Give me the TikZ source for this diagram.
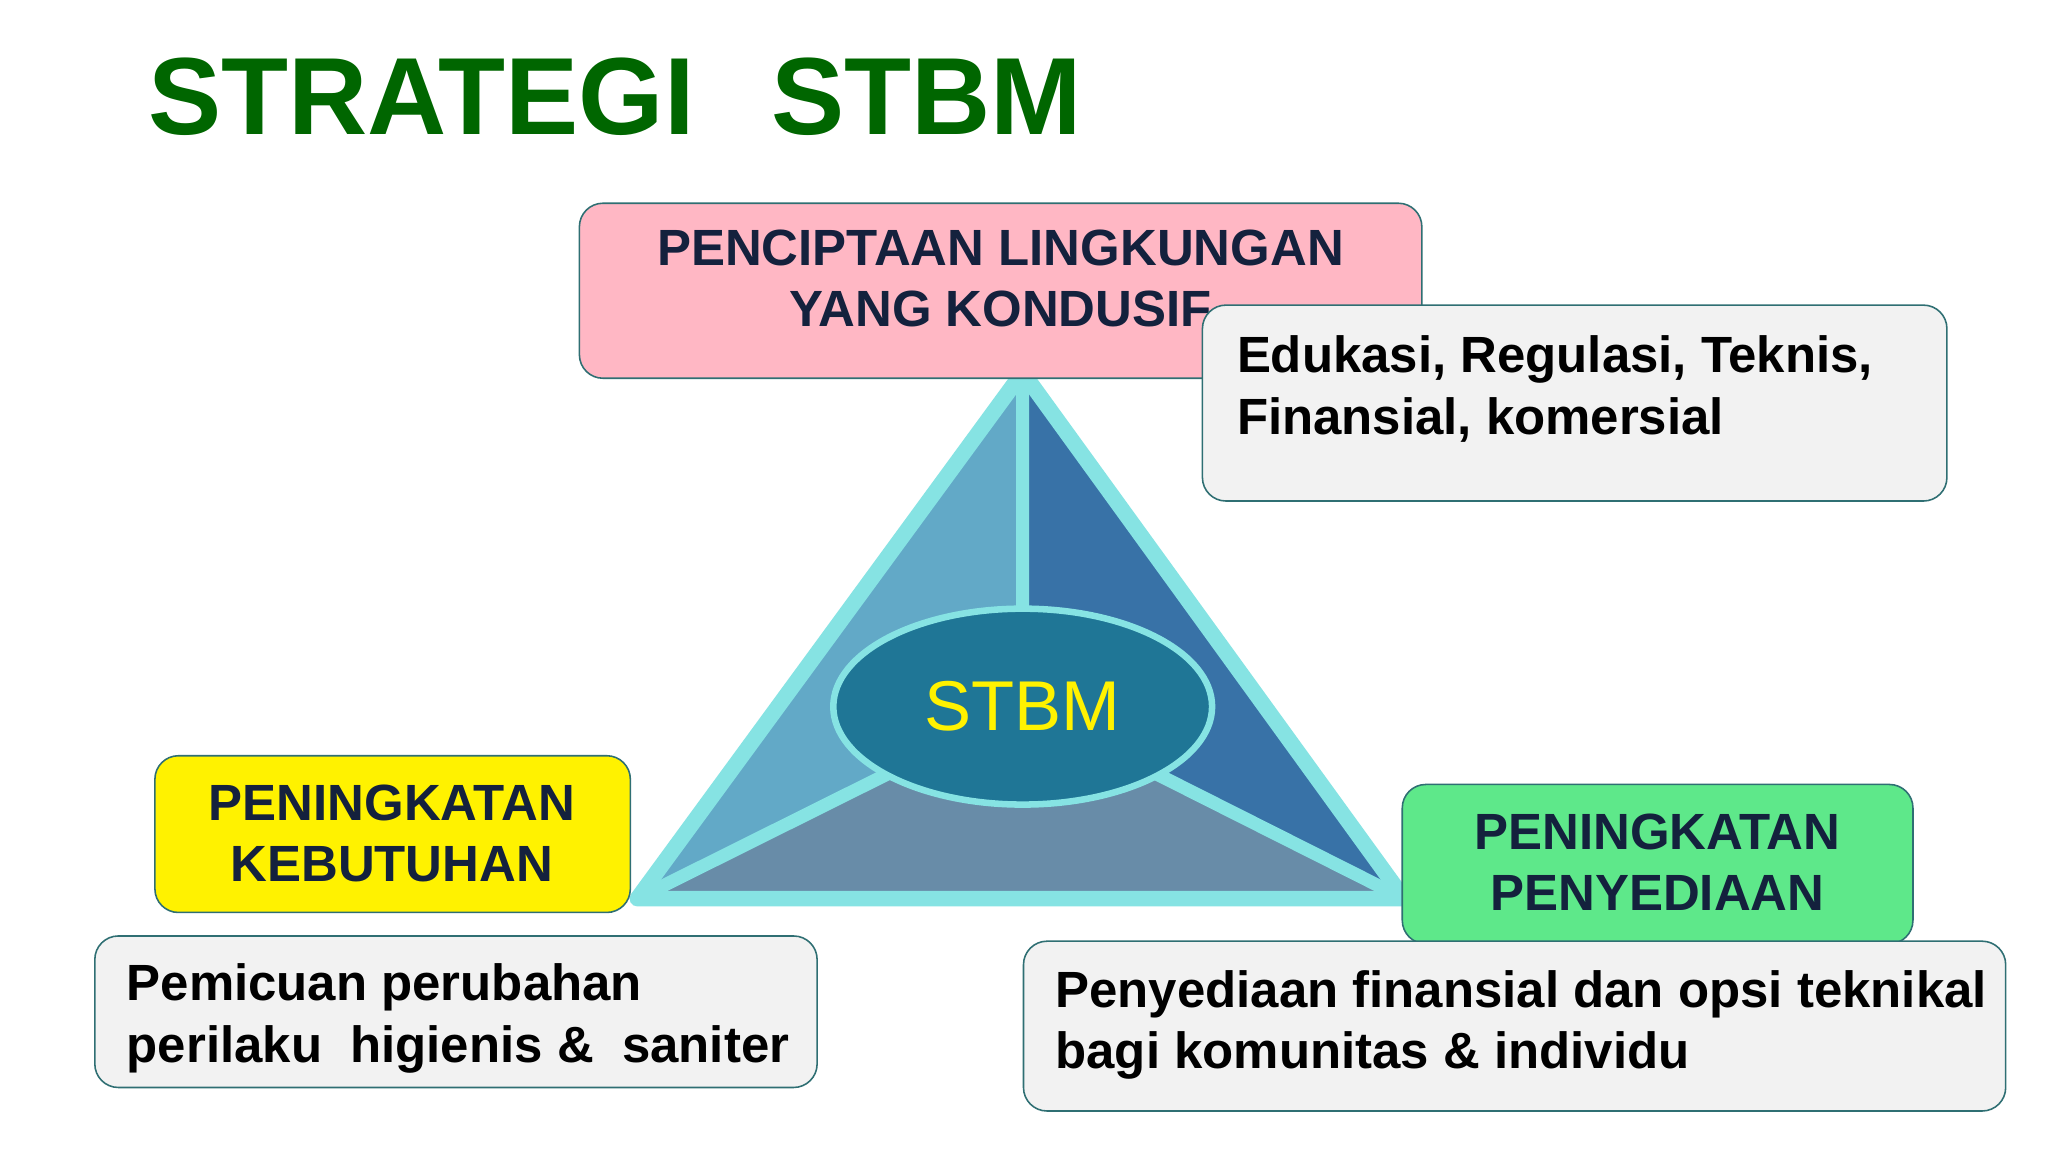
\documentclass[tikz,border=0pt]{standalone}
\usepackage{fontspec}
\setmainfont{Liberation Sans}
\usetikzlibrary{shapes.geometric}
\definecolor{navy}{HTML}{14213D}
\definecolor{edge}{HTML}{2F6F73}
\definecolor{cyanl}{HTML}{86E3E3}
\tikzset{
  box/.style={draw=edge, line width=0.6pt, rounded corners=9pt, inner sep=0pt},
  hd/.style={font=\bfseries\fontsize{19.5}{23.5}\selectfont, text=navy, align=center},
  bd/.style={font=\bfseries\fontsize{19.5}{23.5}\selectfont, text=black, align=left, anchor=north west},
}
\begin{document}
\begin{tikzpicture}[x=0.5pt,y=-0.5pt]
\useasboundingbox (0,0) rectangle (1568,882);
\fill[white] (0,0) rectangle (1568,882);
\node[anchor=base west, inner sep=0, font=\bfseries\fontsize{42}{48}\selectfont, text=green!40!black] (title) at (113,103) {STRATEGI\hspace{0.7em}STBM};
% triangle
\coordinate (A) at (783,285); \coordinate (L) at (488,688); \coordinate (R) at (1075,688); \coordinate (C) at (783,541);
\fill[fill=cyan!45!teal!80] (A) -- (L) -- (C) -- cycle;
\fill[fill=teal!50!cyan!70!blue!80] (A) -- (R) -- (C) -- cycle;
\fill[fill=black!35!cyan!40!blue!40] (L) -- (R) -- (C) -- cycle;
\fill[color=cyan!40!teal!75] (A) -- (L) -- (C) -- cycle;
\fill[color=cyan!30!teal!70!blue] (A) -- (R) -- (C) -- cycle;
\fill[color={rgb,255:red,104;green,140;blue,168}] (L) -- (R) -- (C) -- cycle;
\draw[cyanl, line width=5pt] (C) -- (A) (C) -- (L) (C) -- (R);
\draw[cyanl, line width=6pt, line join=round] (A) -- (L) -- (R) -- cycle;
\node[ellipse, draw=cyanl, line width=2.5pt, fill={rgb,255:red,31;green,118;blue,150}, minimum width=290\pgflinewidth/2.5*0.5, inner sep=0pt, minimum width=145pt, minimum height=75pt, text=yellow, font=\fontsize{27}{30}\selectfont] (core) at (C) {STBM};
% boxes
\node[box, fill={rgb,255:red,255;green,183;blue,196}, minimum width=322.5pt, minimum height=67pt, anchor=north west] (pink) at (443,155) {};
\node[hd] (pinkt) at (766,213) {PENCIPTAAN LINGKUNGAN\\YANG KONDUSIF};
\node[box, fill={rgb,255:red,242;green,242;blue,242}, minimum width=285pt, minimum height=75pt, anchor=north west] (g1) at (920,233) {};
\node[bd] (g1t) at (940,250) {Edukasi, Regulasi, Teknis,\\Finansial, komersial};
\node[box, fill=yellow, minimum width=182pt, minimum height=60pt, anchor=north west] (yel) at (118,578) {};
\node[hd] (yelt) at (300,638) {PENINGKATAN\\KEBUTUHAN};
\node[box, fill={rgb,255:red,242;green,242;blue,242}, minimum width=276.5pt, minimum height=58pt, anchor=north west] (g2) at (72,716) {};
\node[bd] (g2t) at (90,731) {Pemicuan perubahan\\perilaku\ \ higienis \&\ \ saniter};
\node[box, fill={rgb,255:red,94;green,232;blue,138}, minimum width=195.5pt, minimum height=61pt, anchor=north west] (grn) at (1073,600) {};
\node[hd] (grnt) at (1269,660) {PENINGKATAN\\PENYEDIAAN};
\node[box, fill={rgb,255:red,242;green,242;blue,242}, minimum width=376pt, minimum height=65pt, anchor=north west] (g3) at (783,720) {};
\node[bd] (g3t) at (801,736) {Penyediaan finansial dan opsi teknikal\\bagi komunitas \& individu};
\end{tikzpicture}
\end{document}
